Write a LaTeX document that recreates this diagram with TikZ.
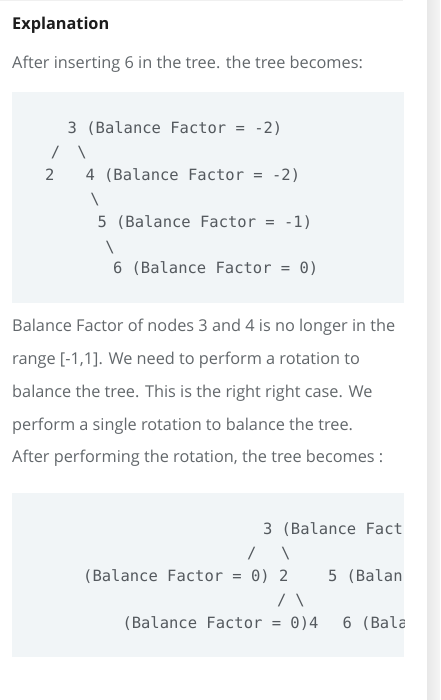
\documentclass[tikz,border=0pt]{standalone}
\usepackage{fontspec}
\setmainfont{Open Sans}
\setmonofont{DejaVu Sans Mono}
\definecolor{txtgray}{HTML}{62676B}
\definecolor{codegray}{HTML}{54595E}
\definecolor{codebg}{HTML}{F1F5F7}
\definecolor{headblack}{HTML}{1C1C1C}

\begin{document}
\begin{tikzpicture}[x=1pt,y=-1pt,
  head/.style={anchor=base west,inner sep=0pt,text=headblack,font=\fontsize{16.3}{20}\selectfont\bfseries},
  body/.style={anchor=base west,inner sep=0pt,text=txtgray,font=\fontsize{16.3}{19}\selectfont},
  code/.style={anchor=base west,inner sep=0pt,text=codegray,font=\fontsize{15.5}{18}\ttfamily},
  branch/.style={anchor=base,inner sep=0pt,text=codegray,font=\fontsize{15.5}{18}\ttfamily}]
\useasboundingbox (0,0) rectangle (440,700);
\fill[white] (0,0) rectangle (440,700);
% page edge and scroll strip
\fill[black!6] (0,0) rectangle (403,1.5);
\shade[left color=black!9,right color=black!4] (427,0) rectangle (440,700);

\node[head] (title) at (12,29.5) {Explanation};
\node[body] (intro) at (12,68.5) {After inserting 6 in the tree. the tree becomes:};

% first tree
\fill[codebg] (12,92) rectangle (404,303);
\node[code] (a3) at (67.5,133.5) {3 (Balance Factor = -2)};
\node[branch] (a3l) at (55.5,158) {/};
\node[branch] (a3r) at (82,158) {\textbackslash};
\node[code] (a2) at (45,180.5) {2};
\node[code] (a4) at (85.3,180.5) {4 (Balance Factor = -2)};
\node[branch] (a4r) at (95,205) {\textbackslash};
\node[code] (a5) at (97.3,227.5) {5 (Balance Factor = -1)};
\node[branch] (a5r) at (110,252) {\textbackslash};
\node[code] (a6) at (112.8,273.5) {6 (Balance Factor = 0)};

\node[body] (p1) at (12,331.7) {Balance Factor of nodes 3 and 4 is no longer in the};
\node[body] (p2) at (12,364.5) {range [-1,1]. We need to perform a rotation to};
\node[body] (p3) at (12,397.3) {balance the tree. This is the right right case. We};
\node[body] (p4) at (12,430) {perform a single rotation to balance the tree.};
\node[body] (p5) at (12,462.7) {After performing the rotation, the tree becomes :};

% second tree
\fill[codebg] (12,493) rectangle (404,657);
\begin{scope}
\clip (12,493) rectangle (404,657);
\node[code] (b3) at (262.8,534.5) {3 (Balance Fact};
\node[branch] (b3l) at (251.7,558) {/};
\node[branch] (b3r) at (285.8,558) {\textbackslash};
\node[code] (b2) at (83,581.5) {(Balance Factor = 0) 2};
\node[code] (b5) at (327.8,581.5) {5 (Balan};
\node[branch] (b2l) at (281.7,605) {/};
\node[branch] (b2r) at (300,605) {\textbackslash};
\node[code] (b4) at (122.3,628.5) {(Balance Factor = 0)4};
\node[code] (b6) at (342.3,628.5) {6 (Bala};
\end{scope}
\end{tikzpicture}
\end{document}
